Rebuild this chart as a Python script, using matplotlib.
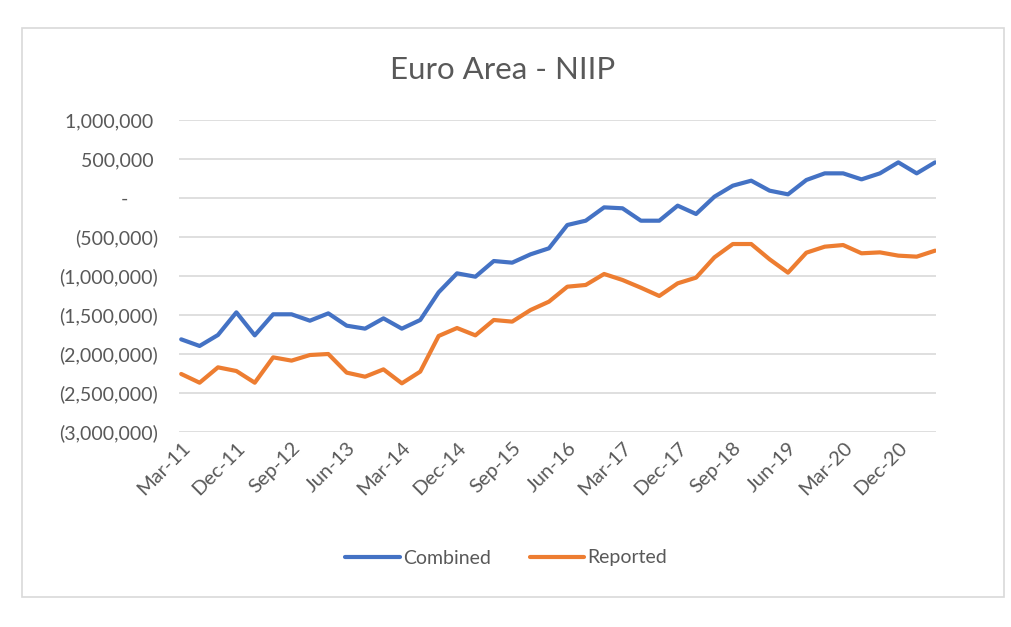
import matplotlib
matplotlib.use("Agg")
import matplotlib.pyplot as plt
import matplotlib.patches as mpatches
from matplotlib.ticker import FuncFormatter, FixedLocator

# ── Data (quarterly, Mar-11 .. Jun-21) ─────────────────────────────────────
months = ["Mar", "Jun", "Sep", "Dec"]
quarters = [f"{months[i % 4]}-{11 + i // 4}" for i in range(42)]

combined = [
    -1812000, -1897000, -1756000, -1466000, -1761000, -1491000, -1491000,
    -1573000, -1479000, -1637000, -1675000, -1543000, -1675000, -1564000,
    -1209000, -966000, -1009000, -808000, -829000, -722000, -645000,
    -346000, -291000, -120000, -132000, -291000, -291000, -98000,
    -205000, 17000, 158000, 222000, 94000, 47000, 231000,
    316000, 316000, 239000, 316000, 457000, 316000, 457000,
]
reported = [
    -2256000, -2368000, -2171000, -2218000, -2368000, -2043000, -2085000,
    -2013000, -2000000, -2239000, -2291000, -2197000, -2376000, -2226000,
    -1769000, -1667000, -1761000, -1564000, -1585000, -1436000, -1329000,
    -1137000, -1115000, -974000, -1051000, -1150000, -1256000, -1094000,
    -1021000, -761000, -590000, -590000, -786000, -957000, -701000,
    -624000, -603000, -709000, -697000, -739000, -752000, -675000,
]

# ── Style ──────────────────────────────────────────────────────────────────
TEXT = "#595959"
GRID = "#d9d9d9"
BLUE = "#4472c4"
ORANGE = "#ed7d31"
plt.rcParams["font.family"] = ["Lato", "DejaVu Sans"]

fig = plt.figure(figsize=(10.12, 6.27), dpi=100, facecolor="white")
ax = fig.add_axes([179 / 1012, 1 - 432 / 627, 757 / 1012, 312 / 627])

x = list(range(len(quarters)))
ax.plot(x, combined, color=BLUE, lw=3, label="Combined", solid_capstyle="round")
ax.plot(x, reported, color=ORANGE, lw=3, label="Reported", solid_capstyle="round")

ax.set_ylim(-3000000, 1000000)
ax.set_xlim(-0.12, 41.05)
ax.set_yticks(range(-3000000, 1000001, 500000))


def acct(v, pos):
    if v == 0:
        return "-      "
    if v < 0:
        return f"({-v:,.0f})"
    return f"{v:,.0f} "


ax.yaxis.set_major_formatter(FuncFormatter(acct))
ax.xaxis.set_major_locator(FixedLocator(x[::3]))
ax.set_xticklabels(quarters[::3], rotation=45, ha="right", va="top",
                   rotation_mode="anchor", fontsize=14.5)

ax.grid(axis="y", color=GRID, lw=1.2)
ax.set_axisbelow(True)
for s in ax.spines.values():
    s.set_visible(False)
ax.tick_params(axis="both", length=0, colors=TEXT)
ax.tick_params(axis="y", pad=15, labelsize=14)
ax.tick_params(axis="x", pad=5)

fig.text(0.497, 1 - 70 / 627, "Euro Area - NIIP", ha="center", va="center",
         fontsize=22.5, color=TEXT)

fig.legend(loc="center", bbox_to_anchor=(0.5, 1 - 558 / 627), ncol=2,
           frameon=False, fontsize=14, labelcolor=TEXT, handlelength=2.8,
           columnspacing=2.0, handletextpad=0.15)

fig.patches.append(mpatches.Rectangle(
    (22 / 1012, 1 - 597 / 627), 982 / 1012, 569 / 627,
    transform=fig.transFigure, fill=False, edgecolor=GRID, lw=1.2))

fig.savefig("out.png", dpi=100, facecolor="white")
